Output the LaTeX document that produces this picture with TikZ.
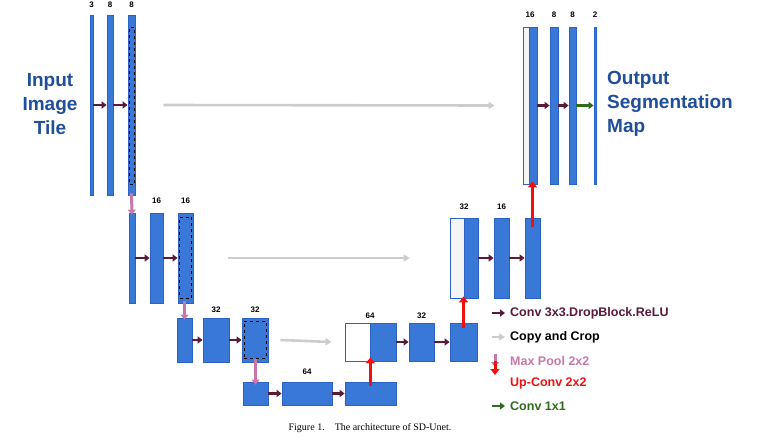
\documentclass[tikz,border=0pt]{standalone}
\usepackage{fontspec}
\setmainfont{Liberation Serif}
\setsansfont{Liberation Sans}
\usetikzlibrary{arrows.meta}
\definecolor{bblue}{HTML}{3A78D8}
\definecolor{bedge}{HTML}{2A62C8}
\definecolor{conv}{HTML}{5A1A3A}
\definecolor{copyc}{HTML}{CCCCCC}
\definecolor{poolc}{HTML}{C878A8}
\definecolor{upc}{HTML}{F01010}
\definecolor{onec}{HTML}{2E6B1E}
\definecolor{ttl}{HTML}{1F4E9A}
\tikzset{
 box/.style={draw=bedge,fill=bblue,line width=0.8pt,inner sep=0pt},
 wbox/.style={draw=bedge,fill=white,line width=0.8pt,inner sep=0pt},
 lbox/.style={draw=bedge,fill=gray!8,line width=0.8pt,inner sep=0pt},
 dbox/.style={draw=black,dashed,line width=0.7pt,inner sep=0pt},
 lab/.style={font=\sffamily\bfseries\fontsize{8}{8}\selectfont,inner sep=0pt},
 carr/.style={conv,line width=2.6pt,-{Triangle[length=5pt,width=7pt]}},
 garr/.style={onec,line width=2.6pt,-{Triangle[length=5pt,width=7pt]}},
 cparr/.style={copyc,line width=2.6pt,-{Triangle[length=6pt,width=7pt]}},
 parr/.style={poolc,line width=3pt,-{Triangle[length=5pt,width=8pt]}},
 uarr/.style={upc,line width=3pt,-{Triangle[length=6pt,width=9pt]}},
 big/.style={font=\sffamily\bfseries\fontsize{19}{24}\selectfont,text=ttl,inner sep=0pt},
 leg/.style={font=\sffamily\bfseries\fontsize{12.5}{13}\selectfont,anchor=west,inner sep=0pt},
}
\newcommand{\bx}[6]{\node[#1,minimum width={#4-#2},minimum height={#5-#3}] (#6) at ({(#2+#4)/2},{(#3+#5)/2}) {};}
\begin{document}
\begin{tikzpicture}[x=1pt,y=-1pt]
\useasboundingbox (0,0) rectangle (779,440);
% level 1
\bx{box}{90}{15}{93}{195}{a1}
\bx{box}{107}{15}{113}{195}{a2}
\bx{box}{128}{15}{135}{195}{a3}
\bx{dbox}{129.5}{27}{134}{184}{a3d}
\node[lab] at (a1|-0,5) {3};
\node[lab] at (a2|-0,5) {8};
\node[lab] at (a3|-0,5) {8};
\draw[carr] (a1.east) -- (a2.west);
\draw[carr] (a2.east) -- (a3.west);
\bx{lbox}{523}{27}{529}{184}{r1w}
\bx{box}{529}{27}{537}{184}{r1}
\bx{box}{550}{27}{558}{184}{r2}
\bx{box}{569}{27}{576}{184}{r3}
\bx{box}{594}{27}{596}{184}{r4}
\node[lab] at (530,15) {16};
\node[lab] at (r2|-0,15) {8};
\node[lab] at (r3|-0,15) {8};
\node[lab] at (r4|-0,15) {2};
\draw[carr] (r1.east) -- (r2.west);
\draw[carr] (r2.east) -- (r3.west);
\draw[garr] (r3.east) -- (r4.west);
\draw[cparr] ([xshift=28]a3.east) -- ([xshift=-28]r1w.west);
\node[big,align=center] (in) at (50,104) {Input\\Image\\Tile};
\node[big,align=left,anchor=west] (out) at (607,104) {Output\\Segmentation\\Map};
% level 2
\bx{box}{129}{213}{135}{303}{b1}
\bx{box}{150}{213}{163}{303}{b2}
\bx{box}{178}{213}{193}{303}{b3}
\bx{dbox}{179.5}{217}{191.5}{298}{b3d}
\node[lab] at (b2|-0,201) {16};
\node[lab] at (b3|-0,201) {16};
\draw[carr] (b1.east) -- (b2.west);
\draw[carr] (b2.east) -- (b3.west);
\draw[parr] ([yshift=2]a3.south) -- ([yshift=-2]b1.north);
\bx{lbox}{450}{218}{464}{298}{s1w}
\bx{box}{464}{218}{478}{298}{s1}
\bx{box}{494}{218}{509}{298}{s2}
\bx{box}{525}{218}{540}{298}{s3}
\node[lab] at (464,207) {32};
\node[lab] at (s2|-0,207) {16};
\draw[carr] (s1.east) -- (s2.west);
\draw[carr] (s2.east) -- (s3.west);
\draw[uarr] ([yshift=-9]s3.north) -- ([yshift=3]r1.south -| s3);
\draw[cparr] ([xshift=35]b3.east) -- ([xshift=-40]s1w.west);
% level 3
\bx{box}{177}{318}{192}{362}{c1}
\bx{box}{203}{318}{229}{362}{c2}
\bx{box}{242}{318}{268}{362}{c3}
\bx{dbox}{244}{321}{266}{358}{c3d}
\node[lab] at (c2|-0,310) {32};
\node[lab] at (c3|-0,310) {32};
\draw[carr] (c1.east) -- (c2.west);
\draw[carr] (c2.east) -- (c3.west);
\draw[parr] ([yshift=2]b1.south -| c1) -- ([yshift=-2]c1.north);
\bx{wbox}{345}{323}{370}{361}{t1w}
\bx{box}{370}{323}{396}{361}{t1}
\bx{box}{409}{323}{434}{361}{t2}
\bx{box}{450}{323}{477}{361}{t3}
\node[lab] at (370,316) {64};
\node[lab] at (t2|-0,316) {32};
\draw[carr] (t1.east) -- (t2.west);
\draw[carr] (t2.east) -- (t3.west);
\draw[uarr] ([yshift=-5]t3.north) -- ([yshift=2]s1.south -| t3);
\draw[cparr] ([xshift=12]c3.east) -- ([xshift=-13]t1w.west);
% level 4
\bx{box}{243}{382}{268}{405}{d1}
\bx{box}{282}{382}{332}{405}{d2}
\bx{box}{345}{382}{396}{405}{d3}
\node[lab] at (d2|-0,372) {64};
\draw[carr] (d1.east) -- (d2.west);
\draw[carr] (d2.east) -- (d3.west);
\draw[parr] ([yshift=3]c3.south -| d1) -- ([yshift=-3]d1.north);
\draw[uarr] ([yshift=-4]d3.north -| t1w.east) -- ([yshift=4]t1.south -| t1w.east);
% legend
\coordinate (l1) at (492,313); \coordinate (l2) at (492,337);
\coordinate (l3) at (495,354); \coordinate (l4) at (495,375);
\coordinate (l5) at (492,406);
\draw[carr] (l1) -- ++(13,0);
\node[leg,text=conv] at (510,313) {Conv 3x3.DropBlock.ReLU};
\draw[cparr] (l2) -- ++(13,0);
\node[leg] at (510,337) {Copy and Crop};
\draw[parr] (l3) -- ++(0,13);
\node[leg,text=poolc] at (510,361) {Max Pool 2x2};
\draw[uarr] ([yshift=14]l4) -- (l4);
\node[leg,text=upc] at (510,383) {Up-Conv 2x2};
\draw[garr] (l5) -- ++(13,0);
\node[leg,text=onec] at (510,406) {Conv 1x1};
\node[font=\fontsize{10}{10}\selectfont,inner sep=0pt] (cap) at (370,428) {Figure 1.\quad The architecture of SD-Unet.};
\end{tikzpicture}
\end{document}
